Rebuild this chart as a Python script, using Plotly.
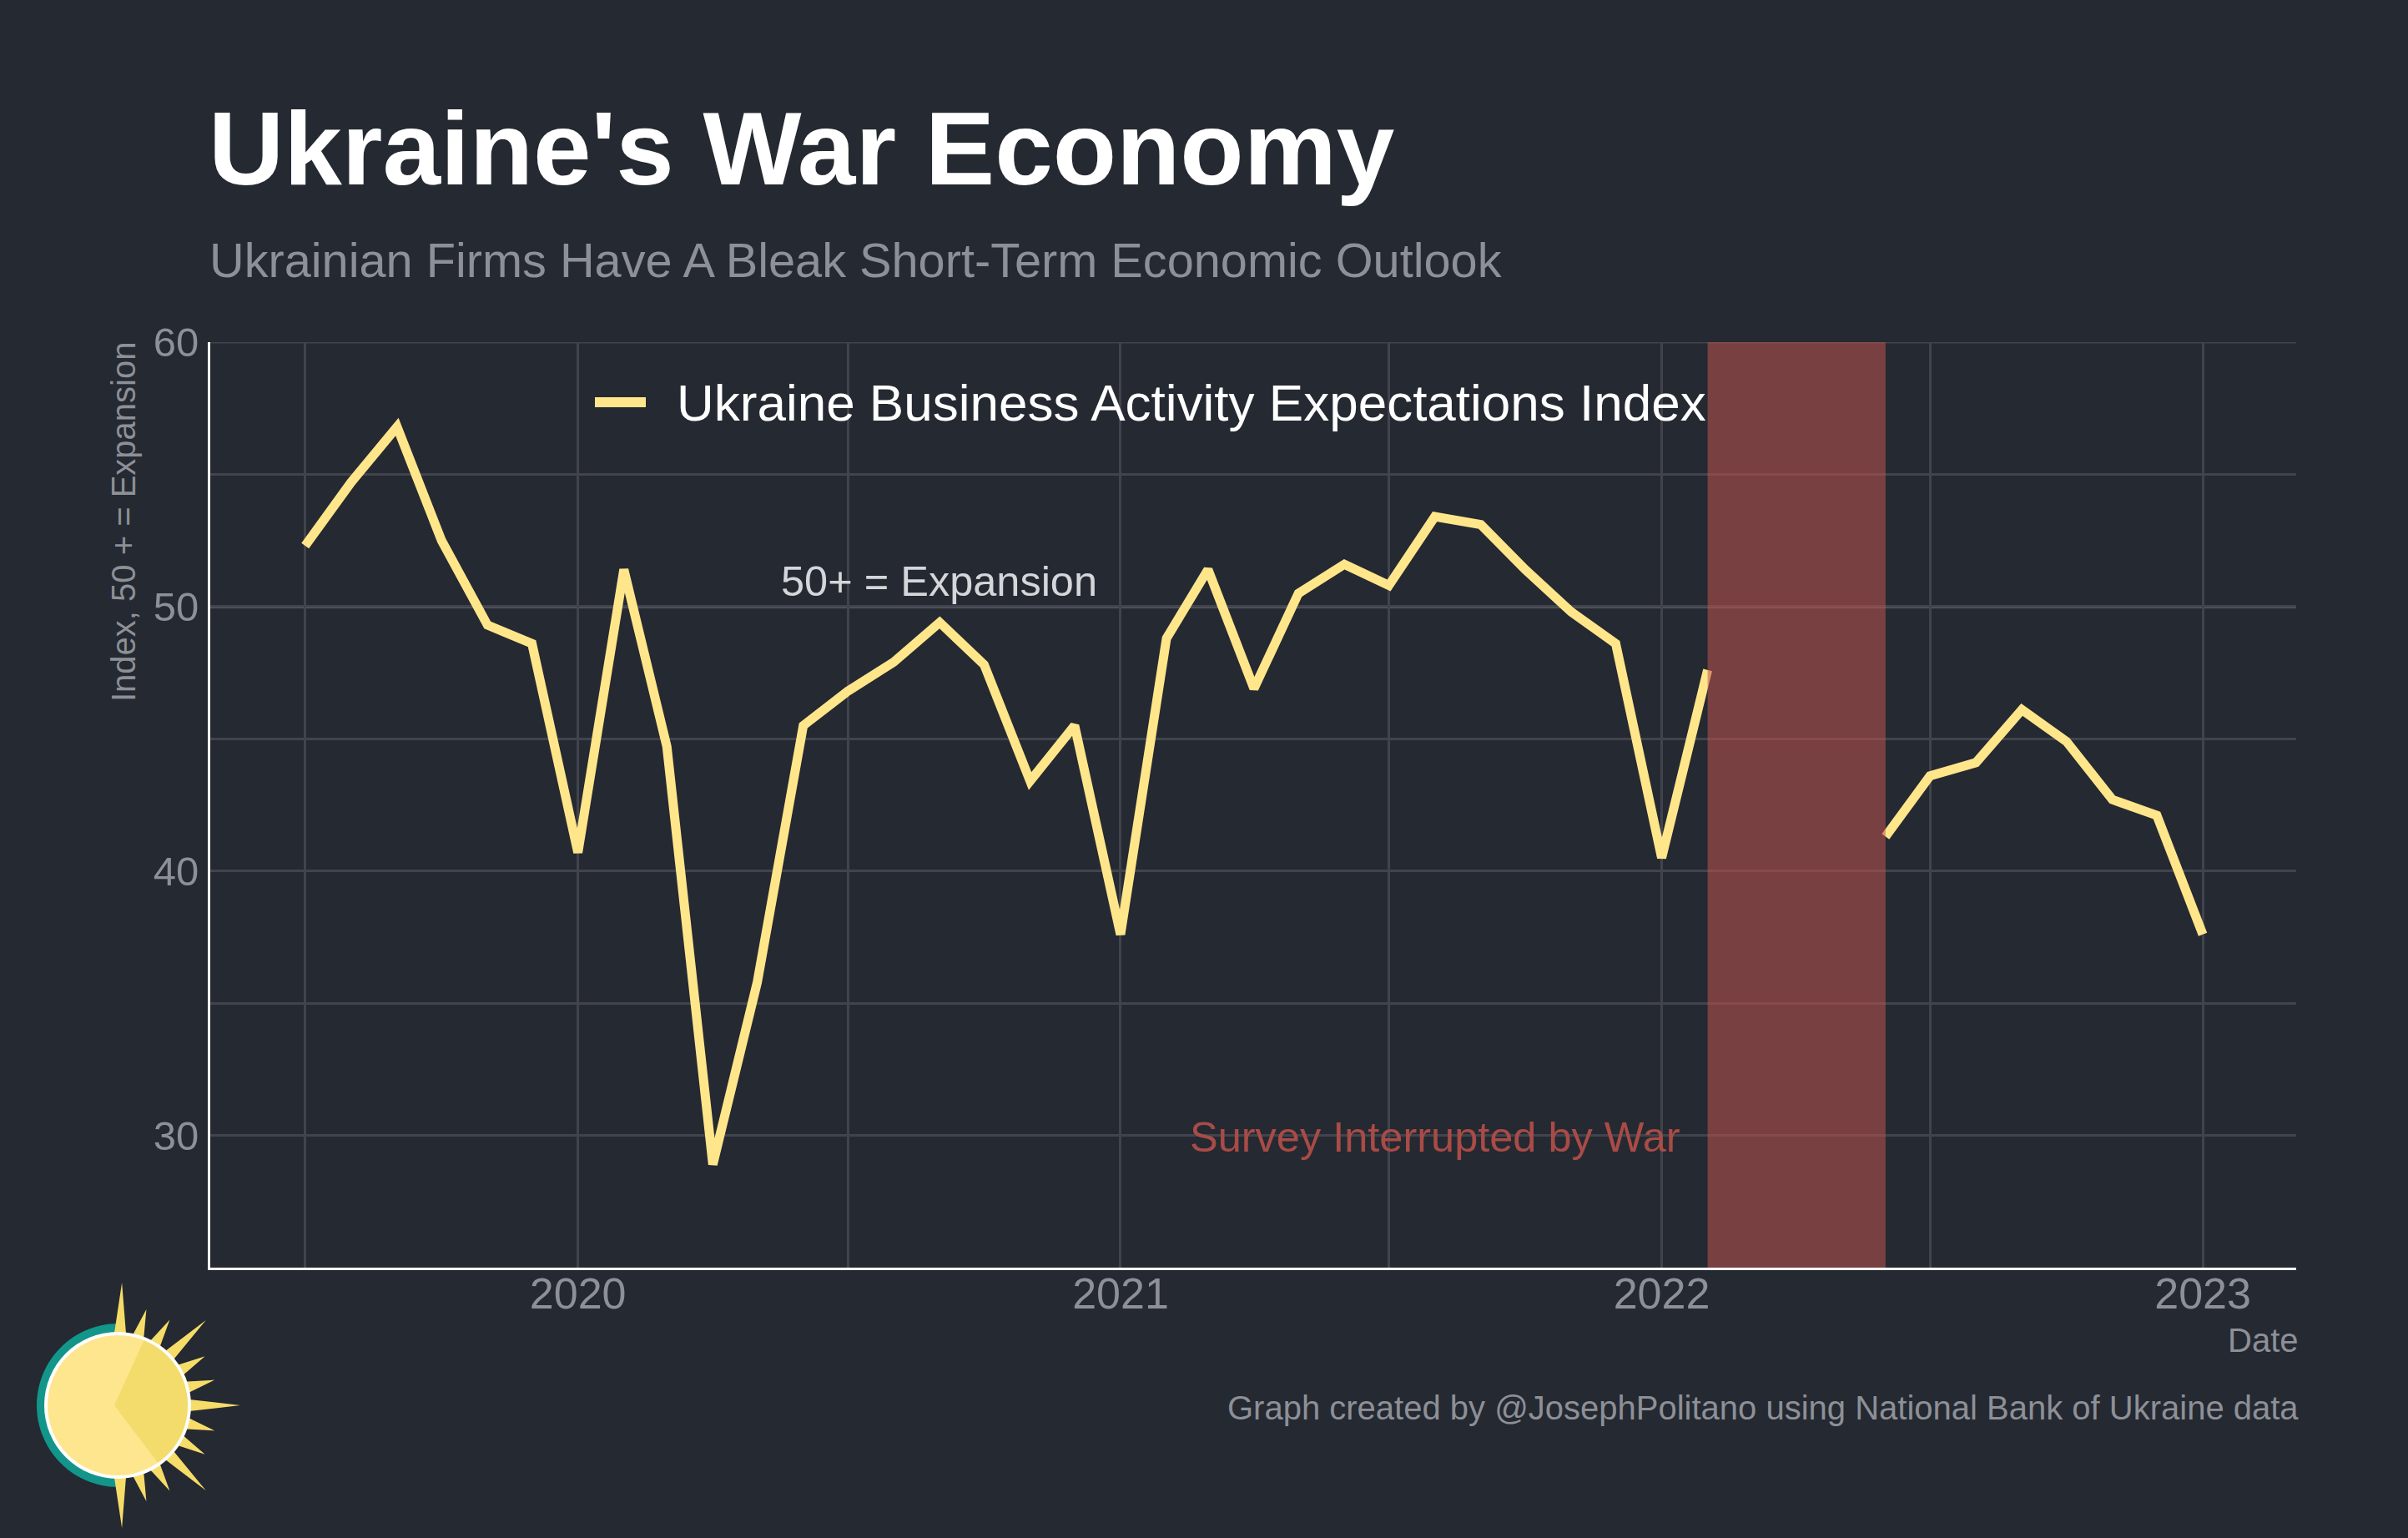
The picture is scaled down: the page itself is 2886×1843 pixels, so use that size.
import numpy as np
import pandas as pd
import plotly.graph_objects as go

# ---------------- data ----------------
months = pd.date_range("2019-07-01", periods=43, freq="MS")
index_values = [
    52.3, 54.7, 56.8, 52.5, 49.3, 48.6,                                  # 2019 Jul-Dec
    40.7, 51.4, 44.7, 28.9, 35.8, 45.5, 46.8, 47.9, 49.4, 47.8, 43.4, 45.5,  # 2020
    37.6, 48.8, 51.4, 46.9, 50.5, 51.6, 50.8, 53.4, 53.1, 51.4, 49.8, 48.6,  # 2021
    40.5, 47.6, None, None, None, 41.3, 43.6, 44.1, 46.1, 44.9, 42.7, 42.1,  # 2022
    37.6,                                                                # 2023 Jan
]
series_name = "Ukraine Business Activity Expectations Index"
war_start, war_end = "2022-02-01", "2022-06-01"
expansion_level = 50
y_top = 60
x_tickvals = ["2019-07-01", "2020-01-01", "2020-07-01", "2021-01-01",
              "2021-07-01", "2022-01-01", "2022-07-01", "2023-01-01"]
x_ticktext = ["", "2020", "", "2021", "", "2022", "", "2023"]
y_tickvals = [30, 35, 40, 45, 50, 55, 60]
y_ticktext = ["30", "", "40", "", "50", "", "60"]

# ---------------- style ----------------
W, H = 2886, 1843
L, R, T, B = 252, 2752, 410, 1519
BG = "#252932"
GRID = "#41444D"
GREY = "#8D9097"
LINE = "#FFE68A"
FONT = "Liberation Sans, Arial, sans-serif"


def px(x):
    return (x - L) / (R - L)


def py(y):
    return (B - y) / (B - T)


fig = go.Figure()
fig.add_trace(go.Scatter(
    x=months, y=index_values, mode="lines", name=series_name,
    line=dict(color=LINE, width=11), connectgaps=False, showlegend=False,
))

shapes = []
# top grid line (60)
shapes.append(dict(type="line", xref="paper", yref="y", x0=0, x1=1, y0=y_top, y1=y_top,
                   line=dict(color=GRID, width=3), layer="between"))
# 50 line
shapes.append(dict(type="line", xref="paper", yref="y", x0=0, x1=1,
                   y0=expansion_level, y1=expansion_level,
                   line=dict(color="white", width=3), layer="between"))
# war shading
shapes.append(dict(type="rect", xref="x", yref="paper", x0=war_start, x1=war_end,
                   y0=0, y1=1, fillcolor="rgba(192,84,78,0.55)", line=dict(width=0),
                   layer="above"))
# legend symbol
shapes.append(dict(type="line", xref="paper", yref="paper", x0=px(713), x1=px(774),
                   y0=py(482), y1=py(482), line=dict(color=LINE, width=12)))

# ---------------- logo (sun) ----------------
cx, cy = 141, 1684


def pt(x, y):
    return f"{px(x):.5f},{py(y):.5f}"


# teal left half-disc
ang = np.linspace(-90, -270, 60)
rt = 98
path = "M " + " L ".join(pt(cx + 1 + rt * np.cos(np.radians(a)), cy + rt * np.sin(np.radians(a))) for a in ang) + " Z"
shapes.append(dict(type="path", xref="paper", yref="paper", path=path,
                   fillcolor="#12968A", line=dict(width=0), layer="above"))
# rays
ray_angles = np.linspace(-88, 88, 13)
pts = [pt(cx, cy)]
for i, a in enumerate(ray_angles):
    tip = 147 if i % 3 == 0 else 120
    for aa, rr in ((a - 5, 84), (a, tip), (a + 5, 84)):
        pts.append(pt(cx + rr * np.cos(np.radians(aa)), cy + rr * np.sin(np.radians(aa))))
shapes.append(dict(type="path", xref="paper", yref="paper",
                   path="M " + " L ".join(pts) + " Z",
                   fillcolor="#F6DC68", line=dict(width=0), layer="above"))
# white ring + sun disc
for r, col in ((88, "white"), (84, "#FEE68F")):
    shapes.append(dict(type="circle", xref="paper", yref="paper",
                       x0=px(cx - r), x1=px(cx + r), y0=py(cy + r), y1=py(cy - r),
                       fillcolor=col, line=dict(width=0), layer="above"))
# darker wedge
ang = np.linspace(-68, 55, 40)
wpts = [pt(cx - 4, cy)] + [pt(cx + 84 * np.cos(np.radians(a)), cy + 84 * np.sin(np.radians(a))) for a in ang]
shapes.append(dict(type="path", xref="paper", yref="paper",
                   path="M " + " L ".join(wpts) + " Z",
                   fillcolor="#F3DC6B", line=dict(width=0), layer="above"))

annotations = [
    dict(text="<b>Ukraine's War Economy</b>", x=px(248), y=py(177), xanchor="left", yanchor="middle",
         font=dict(size=125, color="white", family=FONT)),
    dict(text="Ukrainian Firms Have A Bleak Short-Term Economic Outlook", x=px(249), y=py(312),
         xanchor="left", yanchor="middle", font=dict(size=57.7, color=GREY, family=FONT)),
    dict(text=series_name, x=px(809), y=py(482), xanchor="left", yanchor="middle",
         font=dict(size=62, color="white", family=FONT)),
    dict(text="50+ = Expansion", x=px(934), y=py(696), xanchor="left", yanchor="middle",
         font=dict(size=50.5, color="#D4D6DA", family=FONT)),
    dict(text="Survey Interrupted by War", x=px(2016), y=py(1362), xanchor="right", yanchor="middle",
         font=dict(size=50.5, color="#A94B46", family=FONT)),
    dict(text="Index, 50 + = Expansion", x=px(148), y=py(626), xanchor="center", yanchor="middle",
         textangle=-90, font=dict(size=40, color=GREY, family=FONT)),
    dict(text="Date", x=px(2757), y=py(1606), xanchor="right", yanchor="middle",
         font=dict(size=40, color=GREY, family=FONT)),
    dict(text="Graph created by @JosephPolitano using National Bank of Ukraine data",
         x=px(2757), y=py(1687), xanchor="right", yanchor="middle",
         font=dict(size=40, color=GREY, family=FONT)),
]
for a in annotations:
    a.update(xref="paper", yref="paper", showarrow=False)

fig.update_layout(
    width=W, height=H, autosize=False,
    paper_bgcolor=BG, plot_bgcolor=BG,
    margin=dict(l=L, r=W - R, t=T, b=H - B, pad=0),
    font=dict(family=FONT, color=GREY),
    shapes=shapes, annotations=annotations,
    showlegend=False,
)
fig.update_xaxes(
    type="date", range=["2019-04-28", "2023-03-05"],
    tickvals=x_tickvals, ticktext=x_ticktext,
    showgrid=True, gridcolor=GRID, gridwidth=3,
    showline=True, linecolor="white", linewidth=3, zeroline=False,
    ticks="", ticklabelstandoff=-16, tickfont=dict(size=52, color=GREY, family=FONT),
)
fig.update_yaxes(
    range=[25, 60], tickvals=y_tickvals, ticktext=y_ticktext,
    showgrid=True, gridcolor=GRID, gridwidth=3,
    showline=True, linecolor="white", linewidth=3, zeroline=False,
    ticks="", ticklabelstandoff=1, tickfont=dict(size=49, color=GREY, family=FONT),
)

fig.write_html("out.html")
